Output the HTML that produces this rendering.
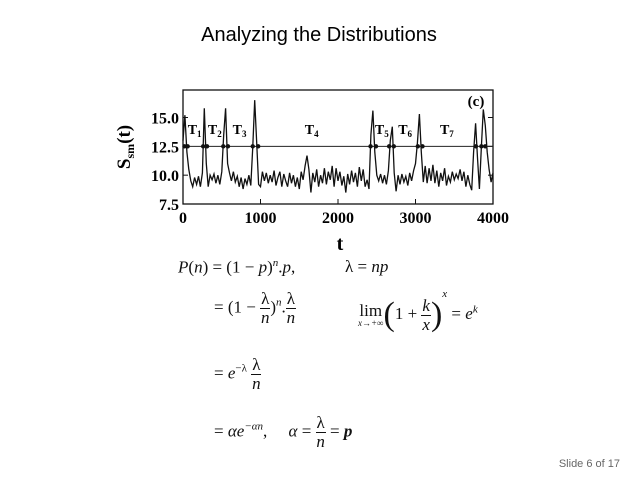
<!DOCTYPE html>
<html><head><meta charset="utf-8"><style>
body{margin:0;background:#fff;}
#page{position:relative;width:638px;height:478px;overflow:hidden;background:#fff;font-family:"Liberation Serif",serif;}
.f{position:absolute;font-size:17px;white-space:nowrap;color:#111;}
.i{font-style:italic}
.frac{display:inline-block;vertical-align:middle;text-align:center;line-height:1.05;}
.frac span{display:block;}
.frac .n{border-bottom:1px solid #111;padding:0 1px;}
</style></head><body>
<div id="page">
<div style="position:absolute;left:0;width:638px;top:24px;text-align:center;font:20px 'Liberation Sans',sans-serif;color:#000;">Analyzing the Distributions</div>
<svg id="chart" width="638" height="260" style="position:absolute;left:0;top:0"></svg>

<div class="f" style="left:178px;top:257px;"><span class="i">P</span>(<span class="i">n</span>) = (1 − <span class="i">p</span>)<sup class="i" style="font-size:11px">n</sup>.<span class="i">p</span>,</div>
<div class="f" style="left:345px;top:257px;">λ = <span class="i">np</span></div>
<div class="f" style="left:214px;top:290px;">= (1 − <span class="frac"><span class="n">λ</span><span class="i">n</span></span>)<sup class="i" style="font-size:11px">n</sup>.<span class="frac"><span class="n">λ</span><span class="i">n</span></span></div>
<div class="f" style="left:358px;top:288px;"><span style="display:inline-block;text-align:center;vertical-align:middle;line-height:1"><span style="display:block">lim</span><span class="i" style="display:block;font-size:9px">x→+∞</span></span><span style="font-size:34px;vertical-align:middle">(</span>1 + <span class="frac"><span class="n i">k</span><span class="i">x</span></span><span style="font-size:34px;vertical-align:middle">)</span><sup class="i" style="font-size:11px;vertical-align:22px">x</sup> = <span class="i">e</span><sup class="i" style="font-size:11px">k</sup></div>
<div class="f" style="left:214px;top:356px;">= <span class="i">e</span><sup style="font-size:11px">−λ</sup> <span class="frac"><span class="n">λ</span><span class="i">n</span></span></div>
<div class="f" style="left:214px;top:414px;">= <span class="i">αe</span><sup class="i" style="font-size:11px">−αn</sup>, &nbsp;&nbsp;&nbsp;&nbsp;<span class="i">α</span> = <span class="frac"><span class="n">λ</span><span class="i">n</span></span> = <b class="i">p</b></div>

<div style="position:absolute;right:18px;top:458px;font:11px 'Liberation Sans',sans-serif;color:#666;">Slide 6 of 17</div>
</div>
<script>
const times=[];for(let k=0;k<=160;k++)times.push(k*25);
const values=[13,15.2,12,10.5,9.5,9.0,9.8,9.2,9.9,9.0,10.2,15.8,11,9.0,10.0,9.6,10.1,9.3,10.0,9.2,10.3,13.5,15.8,11.0,10.2,9.5,10.3,9.4,9.9,9.0,9.8,8.8,9.7,9.2,10.0,9.1,12.5,16.5,13.0,9.2,9.0,10.3,9.5,10.2,9.3,10.0,9.4,10.4,9.1,9.8,10.3,9.0,10.1,9.5,9.0,10.2,9.3,10.0,9.0,9.8,8.8,10.3,9.6,10.8,11.7,10.5,8.5,10.2,9.4,10.5,9.0,10.0,9.3,10.6,9.2,10.3,9.6,10.8,9.0,10.6,9.5,10.3,9.1,9.9,8.5,10.1,9.2,10.4,9.4,10.2,9.0,10.7,9.5,10.5,9.0,9.6,8.8,13.5,15.6,12.0,10.0,9.5,10.1,9.3,10.0,9.2,10.4,13.0,14.2,10.2,8.6,10.0,9.2,10.1,9.4,9.9,9.1,10.2,9.5,10.4,11.0,12.8,15.3,12.0,9.4,10.8,9.3,10.6,9.5,10.9,9.3,10.4,9.0,10.2,9.5,10.6,9.1,9.9,9.4,10.3,9.6,10.1,9.7,10.5,9.5,10.3,9.0,10.0,9.2,8.7,12.0,14.5,11.5,8.8,12.5,15.7,14.3,12.0,10.5,9.4,10.2];
const xTicks=[0,1000,2000,3000,4000];
const yTicks=[7.5,10.0,12.5,15.0];
const threshold=12.5;
const boundaries=[20,60,260,310,520,580,900,970,2420,2490,2660,2720,3030,3090,3780,3850,3900];
const intervalLabels=["1","2","3","4","5","6","7"];
const intervalCenters=[150,410,730,1660,2565,2866,3405];
const X0=183,X1=493,Ytop=90,Ybot=204;
const xs=t=>X0+(t/4000)*(X1-X0);
const ys=v=>Ybot-(v-7.5)*((Ybot-117.5)/7.5);
const svg=document.getElementById('chart');const NS='http://www.w3.org/2000/svg';
function mk(tag,at,txt){const e=document.createElementNS(NS,tag);for(const k in at)e.setAttribute(k,at[k]);if(txt!==undefined)e.textContent=txt;svg.appendChild(e);return e;}
let e=mk('rect',{x:X0,y:Ytop,width:X1-X0,height:Ybot-Ytop,fill:'none',stroke:'#111','stroke-width':1.3});


xTicks.forEach(t=>{
 e=mk('line',{x1:xs(t),x2:xs(t),y1:Ybot,y2:Ybot-5,stroke:'#111'});
 
 
 e=mk('text',{x:xs(t),y:Ybot+19,'text-anchor':'middle','font-size':16,'font-weight':'bold','font-family':'Liberation Serif,serif'},t);
 
 
});
yTicks.forEach(v=>{
 e=mk('line',{x1:X0,x2:X0+5,y1:ys(v),y2:ys(v),stroke:'#111'});
 
 
 mk('line',{x1:X1,x2:X1-5,y1:ys(v),y2:ys(v),stroke:'#111'});
 e=mk('text',{x:X0-4,y:ys(v)+6,'text-anchor':'end','font-size':16,'font-weight':'bold','font-family':'Liberation Serif,serif'},v.toFixed(1));
 
 
});
e=mk('line',{x1:X0,x2:X1,y1:ys(threshold),y2:ys(threshold),stroke:'#222','stroke-width':1});


const pts=times.map((t,i)=>xs(t).toFixed(1)+','+ys(values[i]).toFixed(1)).join(' ');
e=mk('polyline',{points:pts,fill:'none',stroke:'#111','stroke-width':1.3});


boundaries.forEach(t=>{
 e=mk('circle',{cx:xs(t),cy:ys(threshold),r:2.2,fill:'#111'});
 
 
});
intervalLabels.forEach((l,i)=>{
 e=mk('text',{x:xs(intervalCenters[i]),y:ys(13.55),'text-anchor':'middle','font-size':14,'font-weight':'bold','font-family':'Liberation Serif,serif'});
 e.innerHTML='T<tspan font-size="9" dy="3">'+l+'</tspan>';
 
 
});
e=mk('text',{x:476,y:106,'font-size':15,'font-weight':'bold','font-family':'Liberation Serif,serif','text-anchor':'middle'},'(c)');


e=mk('text',{x:340,y:250,'font-size':20,'font-weight':'bold','font-family':'Liberation Serif,serif','text-anchor':'middle'},'t');


e=mk('text',{transform:'translate(130,147) rotate(-90)','font-size':19,'font-weight':'bold','font-family':'Liberation Serif,serif','text-anchor':'middle'});
e.innerHTML='S<tspan font-size="12" dy="4">sm</tspan><tspan dy="-4">(t)</tspan>';


</script>
</body></html>
